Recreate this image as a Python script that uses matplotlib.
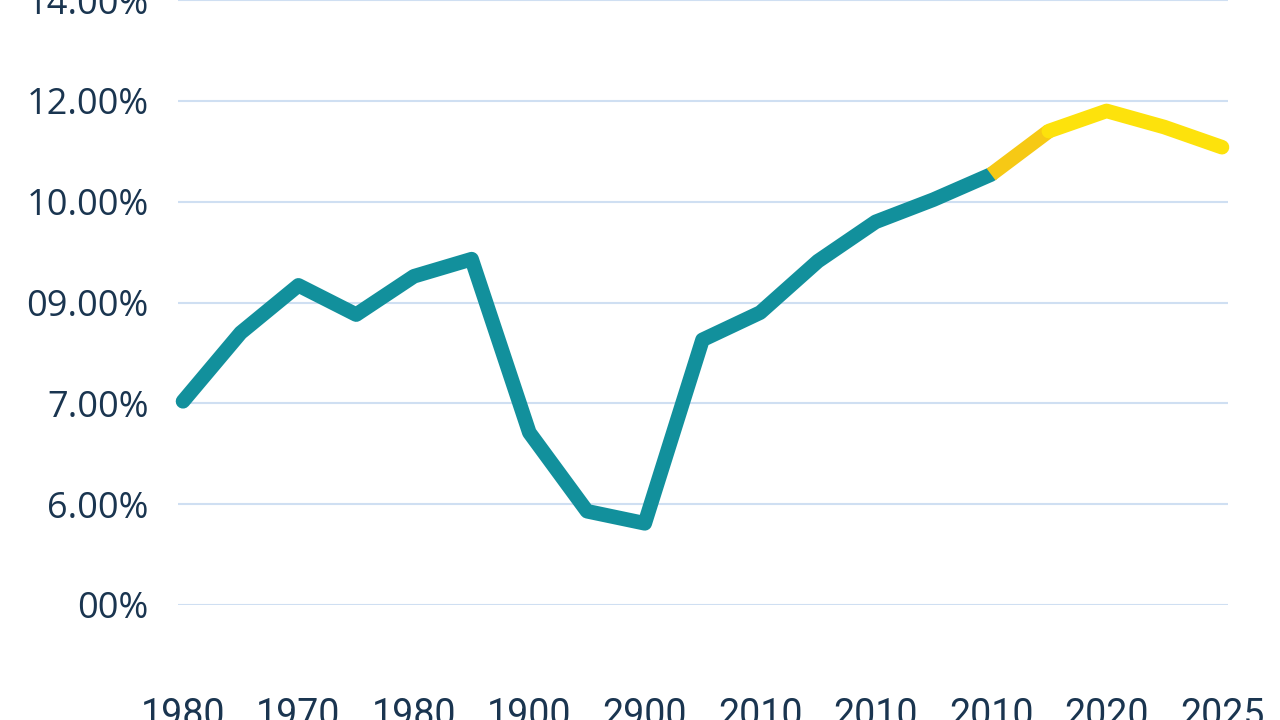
import matplotlib
matplotlib.use("Agg")
import matplotlib.pyplot as plt

# ---- data (y in grid units, gridlines labelled below) ----
x_labels = ["1980", "1970", "1980", "1900", "2900", "2010", "2010", "2010", "2020", "2025"]
y_tick_pos = [0, 1, 2, 3, 4, 5, 6]
y_tick_labels = ["00%", "6.00%", "7.00%", "09.00%", "10.00%", "12.00%", "14.00%"]

hist_values = [2.02, 2.70, 3.17, 2.88, 3.26, 3.43, 1.71, 0.93, 0.81,
               2.63, 2.90, 3.41, 3.80, 4.02, 4.27]
fcst_values = [4.27, 4.70, 4.90, 4.74, 4.54]

teal = "#12909c"
gold = "#f6c915"
yellow = "#fde20c"
text_c = "#1a3550"
grid_c = "#cfdff2"

fig = plt.figure(figsize=(12.8, 7.2), dpi=100)
ax = fig.add_axes([178/1280, 1 - 605/720, (1228-178)/1280, 605/720])

n_hist = len(hist_values)
x_hist = list(range(n_hist))
x_fcst = list(range(n_hist - 1, n_hist - 1 + len(fcst_values)))

for y in y_tick_pos:
    ax.axhline(y, color=grid_c, lw=1.5, zorder=1)

ax.plot(x_hist, hist_values, color=teal, lw=10.5, solid_capstyle="round",
        solid_joinstyle="round", zorder=3, clip_on=False)
ax.plot(x_fcst[:2], fcst_values[:2], color=gold, lw=10.5, solid_capstyle="butt",
        solid_joinstyle="round", zorder=4, clip_on=False)
ax.plot(x_fcst[1:], fcst_values[1:], color=yellow, lw=10.5, solid_capstyle="round",
        solid_joinstyle="round", zorder=4, clip_on=False)

n_total = n_hist + len(fcst_values) - 1
ax.set_xlim(-5/57.7, (n_total - 1) + 6/57.7)
ax.set_ylim(0, 6)

ax.set_yticks(y_tick_pos)
ax.set_yticklabels(y_tick_labels, fontfamily="Open Sans", fontsize=26, color=text_c)
ax.set_xticks(list(range(0, n_total, 2)))
ax.set_xticklabels(x_labels, fontfamily="Roboto", fontsize=27, color=text_c)
ax.tick_params(axis="y", length=0, pad=21)
ax.tick_params(axis="x", length=0, pad=66)

for s in ax.spines.values():
    s.set_visible(False)
ax.patch.set_alpha(0)

fig.savefig("out.png", dpi=100)
